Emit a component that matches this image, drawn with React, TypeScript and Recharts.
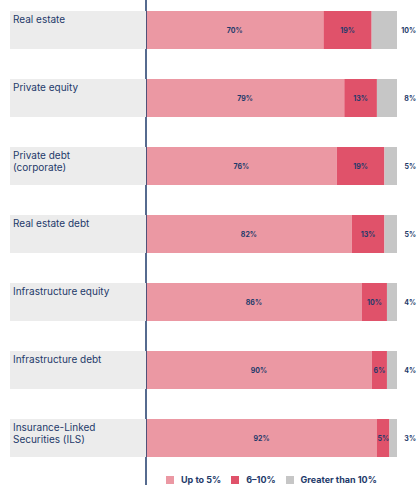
import React from 'react';
import { BarChart, Bar, XAxis, YAxis, LabelList, Legend } from 'recharts';

const categories = [
  'Real estate',
  'Private equity',
  'Private debt\n(corporate)',
  'Real estate debt',
  'Infrastructure equity',
  'Infrastructure debt',
  'Insurance-Linked\nSecurities (ILS)',
];
const seriesNames = ['Up to 5%', '6–10%', 'Greater than 10%'];
const upTo5 = [70, 79, 76, 82, 86, 90, 92];
const sixTo10 = [19, 13, 19, 13, 10, 6, 5];
const over10 = [10, 8, 5, 5, 4, 4, 3];

const NAVY = '#1e3a6a';
const FONT = 'Inter, "Open Sans", sans-serif';

const data = categories.map((name, i) => ({
  name,
  up5: upTo5[i],
  mid: sixTo10[i],
  high: over10[i],
}));

const CategoryTick = (props: any) => {
  const { y, payload } = props;
  const lines = String(payload.value).split('\n');
  const top = y - 19;
  return (
    <g>
      <rect x={10} y={top} width={136} height={38} fill="#ececec" />
      <text x={13} y={top + 11.5} fill={NAVY} fontSize={10} fontFamily={FONT}>
        {lines.map((line, i) => (
          <tspan key={i} x={13} dy={i === 0 ? 0 : 12}>
            {line}
          </tspan>
        ))}
      </text>
    </g>
  );
};

const InsideLabel = (props: any) => {
  const { x, y, width, height, value } = props;
  return (
    <text
      x={x + width / 2}
      y={y + height / 2}
      dy={2.5}
      textAnchor="middle"
      fill={NAVY}
      fontSize={7}
      fontWeight={700}
      fontFamily={FONT}
    >
      {value}%
    </text>
  );
};

const OutsideLabel = (props: any) => {
  const { x, y, width, height, value } = props;
  return (
    <text
      x={x + width + 19}
      y={y + height / 2}
      dy={2.5}
      textAnchor="end"
      fill={NAVY}
      fontSize={7}
      fontWeight={700}
      fontFamily={FONT}
    >
      {value}%
    </text>
  );
};

const renderLegend = (props: any) => {
  const items = [...(props.payload || [])].sort(
    (a: any, b: any) => seriesNames.indexOf(a.value) - seriesNames.indexOf(b.value)
  );
  return (
    <div style={{ display: 'flex', alignItems: 'center', fontFamily: FONT }}>
      {items.map((item: any) => (
        <div key={item.value} style={{ display: 'flex', alignItems: 'center', marginRight: 10 }}>
          <span style={{ width: 8, height: 8, background: item.color, marginRight: 7 }} />
          <span style={{ fontSize: 9, fontWeight: 700, color: NAVY }}>{item.value}</span>
        </div>
      ))}
    </div>
  );
};

export default function App() {
  return (
    <div style={{ position: 'absolute', left: 0, top: 0, width: 419, height: 485, background: '#fff' }}>
      <BarChart
        width={419}
        height={485}
        data={data}
        layout="vertical"
        stackOffset="expand"
        barSize={38}
        margin={{ top: -4, right: 22, bottom: 0, left: 10 }}
      >
        <XAxis type="number" hide domain={[0, 1]} />
        <YAxis
          type="category"
          dataKey="name"
          width={136}
          padding={{ top: 0, bottom: 13 }}
          tickLine={false}
          axisLine={{ stroke: NAVY, strokeWidth: 1.5 }}
          tick={<CategoryTick />}
          interval={0}
        />
        <Legend
          verticalAlign="middle"
          align="center"
          content={renderLegend}
          wrapperStyle={{ left: 166, top: 474, width: 260, height: 12 }}
        />
        <Bar dataKey="up5" name={seriesNames[0]} stackId="a" fill="#eb98a3" isAnimationActive={false}>
          <LabelList dataKey="up5" content={<InsideLabel />} />
        </Bar>
        <Bar dataKey="mid" name={seriesNames[1]} stackId="a" fill="#e0526a" isAnimationActive={false}>
          <LabelList dataKey="mid" content={<InsideLabel />} />
        </Bar>
        <Bar dataKey="high" name={seriesNames[2]} stackId="a" fill="#c6c6c6" isAnimationActive={false}>
          <LabelList dataKey="high" content={<OutsideLabel />} />
        </Bar>
      </BarChart>
    </div>
  );
}
